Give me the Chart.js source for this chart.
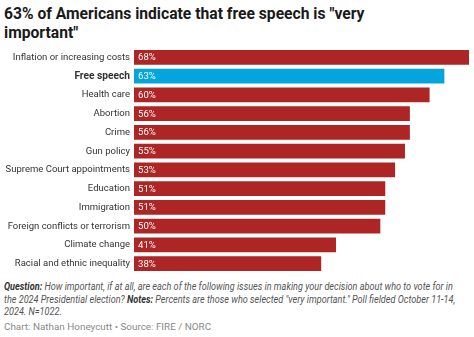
<!DOCTYPE html>
<html>
<head>
<meta charset="utf-8">
<script src="https://cdn.jsdelivr.net/npm/chart.js@4"></script>
<style>
  html, body { margin: 0; padding: 0; background: #fff; }
  body { width: 474px; height: 337px; position: relative; overflow: hidden; font-family: Roboto, "Noto Sans", sans-serif; }
  #title { position: absolute; left: 4px; top: 4px; font-size: 16.4px; font-weight: bold; line-height: 19px; color: #1a1a1a; white-space: nowrap; transform: scaleX(0.955); transform-origin: 0 0; }
  #wrap { position: absolute; left: 0; top: 48px; width: 474px; height: 225px; }
  #notes { position: absolute; left: 4px; top: 281px; font-size: 10.3px; line-height: 12.6px; color: #555; font-style: italic; white-space: nowrap; transform: scaleX(0.885); transform-origin: 0 0; }
  #notes b { color: #333; }
  #credit { position: absolute; left: 4px; top: 321px; font-size: 9.9px; color: #8a8a8a; white-space: nowrap; }
</style>
</head>
<body>
<div id="title">63% of Americans indicate that free speech is "very<br>important"</div>
<div id="wrap"><canvas id="chart"></canvas></div>
<div id="notes"><b>Question:</b> How important, if at all, are each of the following issues in making your decision about who to vote for in<br>the 2024 Presidential election? <b>Notes:</b> Percents are those who selected "very important." Poll fielded October 11-14,<br>2024. N=1022.</div>
<div id="credit">Chart: Nathan Honeycutt • Source: FIRE / NORC</div>
<script>
const issues = [
  "Inflation or increasing costs",
  "Free speech",
  "Health care",
  "Abortion",
  "Crime",
  "Gun policy",
  "Supreme Court appointments",
  "Education",
  "Immigration",
  "Foreign conflicts or terrorism",
  "Climate change",
  "Racial and ethnic inequality"
];
const veryImportant = [68, 63, 60, 56, 56, 55, 53, 51, 51, 50, 41, 38];
const highlight = "Free speech";

const RED = "#ad2524";
const BLUE = "#04a5de";

// white percentage labels just inside the start of each bar
const valueLabels = {
  id: "valueLabels",
  afterDatasetsDraw(chart) {
    const ctx = chart.ctx;
    const meta = chart.getDatasetMeta(0);
    ctx.save();
    ctx.font = "9.6px Roboto, sans-serif";
    ctx.fillStyle = "#ffffff";
    ctx.textBaseline = "middle";
    ctx.textAlign = "left";
    meta.data.forEach((bar, i) => {
      ctx.fillText(veryImportant[i] + "%", bar.base + 4, bar.y + 0.5);
    });
    ctx.restore();
  }
};

new Chart(document.getElementById("chart"), {
  type: "bar",
  data: {
    labels: issues,
    datasets: [{
      data: veryImportant,
      backgroundColor: issues.map(c => c === highlight ? BLUE : RED),
      borderWidth: 0,
      barPercentage: 0.79,
      categoryPercentage: 1
    }]
  },
  options: {
    indexAxis: "y",
    responsive: true,
    maintainAspectRatio: false,
    animation: false,
    layout: { padding: { left: 0, right: 5, top: 0, bottom: 0 } },
    plugins: { legend: { display: false }, tooltip: { enabled: false }, title: { display: false } },
    scales: {
      x: { display: false, min: 0, max: 68 },
      y: {
        grid: { display: false, drawTicks: false },
        border: { display: false },
        afterFit(scale) {
          scale.width = 134;
          scale.paddingTop = 0;
          scale.paddingBottom = 0;
        },
        ticks: {
          padding: 4,
          color: "#333",
          autoSkip: false,
          font: ctx => issues[ctx.index] === highlight
            ? { family: "Roboto, sans-serif", size: 10.2, weight: "bold" }
            : { family: "Roboto, sans-serif", size: 9.5, weight: "normal" }
        }
      }
    }
  },
  plugins: [valueLabels]
});
</script>
</body>
</html>
